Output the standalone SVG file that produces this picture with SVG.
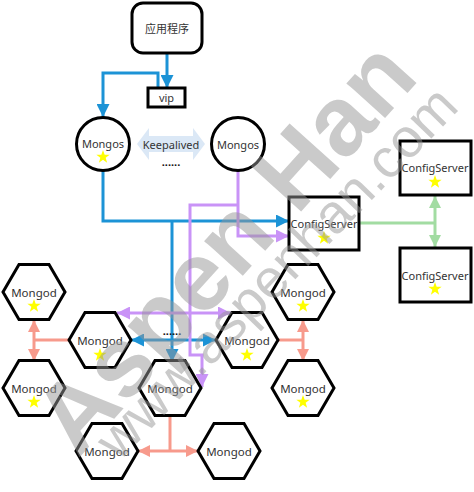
<svg xmlns="http://www.w3.org/2000/svg" xmlns:xlink="http://www.w3.org/1999/xlink" width="474" height="492" viewBox="0 0 474 492">
<style>
.node{fill:#fff;stroke:#000;stroke-width:3}
.t{font-family:"Noto Sans","Noto Sans CJK SC",sans-serif;font-size:11px;fill:#333;text-anchor:middle;dominant-baseline:central}
.tm{font-size:11.5px}
.ln{fill:none;stroke-width:3}
.blue{stroke:#1c93d6}
.purple{stroke:#c993f7}
.salmon{stroke:#f79a8c}
.green{stroke:#a2dca2}
.star{fill:#ffff00}
.wm{font-family:"Liberation Sans",Arial,sans-serif;fill:#969696;fill-opacity:0.5;text-anchor:middle;dominant-baseline:central}
</style>
<defs>
<marker id="aB" viewBox="0 0 10 10" refX="10" refY="5" markerUnits="userSpaceOnUse" markerWidth="13" markerHeight="13" orient="auto"><path d="M0,0 L10,5 L0,10 z" fill="#1c93d6"/></marker>
<marker id="aP" viewBox="0 0 10 10" refX="10" refY="5" markerUnits="userSpaceOnUse" markerWidth="13" markerHeight="13" orient="auto"><path d="M0,0 L10,5 L0,10 z" fill="#c993f7"/></marker>
<marker id="aS" viewBox="0 0 10 10" refX="10" refY="5" markerUnits="userSpaceOnUse" markerWidth="12" markerHeight="12" orient="auto"><path d="M0,0 L10,5 L0,10 z" fill="#f79a8c"/></marker>
<marker id="aG" viewBox="0 0 10 10" refX="10" refY="5" markerUnits="userSpaceOnUse" markerWidth="12" markerHeight="12" orient="auto"><path d="M0,0 L10,5 L0,10 z" fill="#a2dca2"/></marker>
<polygon id="hex" points="-31,0 -15,-27.5 15,-27.5 31,0 15,27.5 -15,27.5"/>
<polygon id="star" points="0,-7 1.65,-2.27 6.66,-2.16 2.66,0.87 4.11,5.66 0,2.8 -4.11,5.66 -2.66,0.87 -6.66,-2.16 -1.65,-2.27"/>
</defs>
<rect width="474" height="492" fill="#fff"/>

<g id="connectors">
<path class="ln blue" d="M167,53 V88" marker-end="url(#aB)"/>
<path class="ln blue" d="M158,88 V73 H103 V117" marker-end="url(#aB)"/>
<path class="ln blue" d="M103,171 V221 H289" marker-end="url(#aB)"/>
<path class="ln blue" d="M172,221 V362" marker-end="url(#aB)"/>
<path class="ln blue" d="M172,340 H131" marker-end="url(#aB)"/>
<path class="ln blue" d="M172,340 H216" marker-end="url(#aB)"/>
<path class="ln purple" d="M238,171 V236 H289" marker-end="url(#aP)"/>
<path class="ln purple" d="M238,205 H190 V355 H202 V387" marker-end="url(#aP)"/>
<path class="ln purple" d="M190,313 H117" marker-end="url(#aP)"/>
<path class="ln purple" d="M190,313 H231" marker-end="url(#aP)"/>
<path class="ln salmon" d="M69,340 H34"/>
<path class="ln salmon" d="M34,340 V320" marker-end="url(#aS)"/>
<path class="ln salmon" d="M34,340 V361" marker-end="url(#aS)"/>
<path class="ln salmon" d="M278,340 H303"/>
<path class="ln salmon" d="M303,340 V320" marker-end="url(#aS)"/>
<path class="ln salmon" d="M303,340 V361" marker-end="url(#aS)"/>
<path class="ln salmon" d="M170,415 V451"/>
<path class="ln salmon" d="M170,451 H138" marker-end="url(#aS)"/>
<path class="ln salmon" d="M170,451 H198" marker-end="url(#aS)"/>
<path class="ln green" d="M359,223 H435"/>
<path class="ln green" d="M435,223 V196" marker-end="url(#aG)"/>
<path class="ln green" d="M435,223 V247" marker-end="url(#aG)"/>
</g>

<g id="app">
<rect class="node" x="132" y="3" width="70" height="50" rx="11"/>
<text class="t" x="167" y="28">应用程序</text>
</g>
<g id="vip">
<rect class="node" x="148" y="88" width="37" height="19"/>
<text class="t" x="166.5" y="97.5">vip</text>
</g>
<g id="mongos1">
<circle class="node" cx="103" cy="144" r="26.5"/>
<text class="t" x="103" y="143">Mongos</text>
<use href="#star" class="star" x="103" y="157"/>
</g>
<g id="keepalived">
<polygon points="137,144 149,128 149,136 193,136 193,128 205,144 193,160 193,152 149,152 149,160" fill="#dbe8f6"/>
<text class="t" x="171" y="144">Keepalived</text>
<text class="t" x="171" y="161" style="font-weight:bold;fill:#111">......</text>
</g>
<g id="mongos2">
<circle class="node" cx="238" cy="144" r="26.5"/>
<text class="t" x="238" y="144">Mongos</text>
</g>
<g id="config1">
<rect class="node" x="289" y="197" width="70" height="53"/>
<text class="t" x="324" y="223">ConfigServer</text>
<use href="#star" class="star" x="324" y="238"/>
</g>
<g id="config2">
<rect class="node" x="400" y="141" width="71" height="54"/>
<text class="t" x="435" y="167">ConfigServer</text>
<use href="#star" class="star" x="435" y="182"/>
</g>
<g id="config3">
<rect class="node" x="400" y="248" width="71" height="54"/>
<text class="t" x="435" y="275">ConfigServer</text>
<use href="#star" class="star" x="435" y="289"/>
</g>

<g id="mongod-tl">
<use href="#hex" class="node" x="34" y="292"/>
<text class="t tm" x="34" y="292">Mongod</text>
<use href="#star" class="star" x="34" y="306"/>
</g>
<g id="mongod-ml">
<use href="#hex" class="node" x="100" y="340"/>
<text class="t tm" x="100" y="340">Mongod</text>
<use href="#star" class="star" x="100" y="355"/>
</g>
<g id="mongod-bl">
<use href="#hex" class="node" x="34" y="388"/>
<text class="t tm" x="34" y="388">Mongod</text>
<use href="#star" class="star" x="34" y="402"/>
</g>
<g id="mongod-c">
<use href="#hex" class="node" x="170" y="388"/>
<text class="t tm" x="170" y="388">Mongod</text>
</g>
<g id="mongod-mr">
<use href="#hex" class="node" x="247" y="340"/>
<text class="t tm" x="247" y="340">Mongod</text>
<use href="#star" class="star" x="247" y="355"/>
</g>
<g id="mongod-tr">
<use href="#hex" class="node" x="303" y="292"/>
<text class="t tm" x="303" y="292">Mongod</text>
<use href="#star" class="star" x="303" y="306"/>
</g>
<g id="mongod-br">
<use href="#hex" class="node" x="303" y="388"/>
<text class="t tm" x="303" y="388">Mongod</text>
<use href="#star" class="star" x="303" y="402"/>
</g>
<g id="mongod-b1">
<use href="#hex" class="node" x="107" y="451"/>
<text class="t tm" x="107" y="451">Mongod</text>
</g>
<g id="mongod-b2">
<use href="#hex" class="node" x="229" y="451"/>
<text class="t tm" x="229" y="451">Mongod</text>
</g>
<text class="t" x="172" y="330" style="font-weight:bold;fill:#111">......</text>

<g id="watermark">
<text class="wm" transform="translate(224,246) rotate(-48)" style="font-size:98px;font-weight:bold">Aspen Han</text>
<text class="wm" transform="translate(276,272) rotate(-46)" style="font-size:55px">www.aspenhan.com</text>
</g>
</svg>
